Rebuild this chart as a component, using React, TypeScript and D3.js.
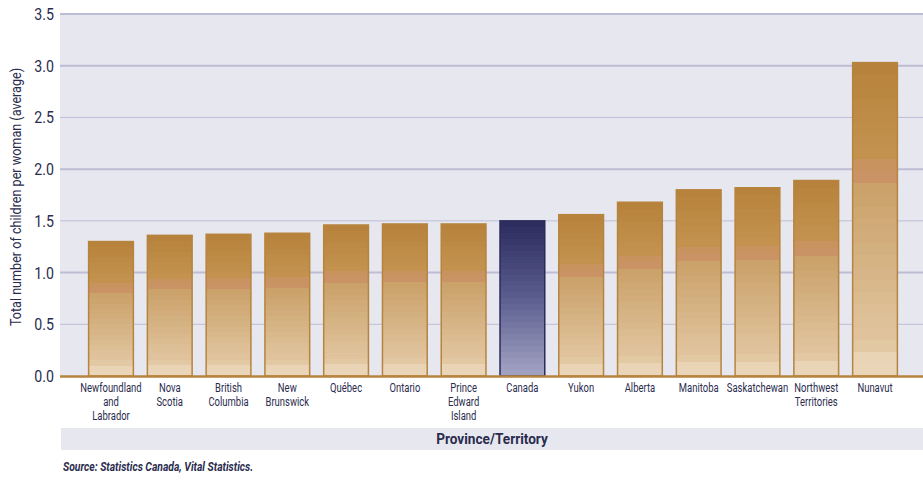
import React from "react";
import * as d3 from "d3";

const provinces = [
  ["Newfoundland", "and", "Labrador"],
  ["Nova", "Scotia"],
  ["British", "Columbia"],
  ["New", "Brunswick"],
  ["Québec"],
  ["Ontario"],
  ["Prince", "Edward", "Island"],
  ["Canada"],
  ["Yukon"],
  ["Alberta"],
  ["Manitoba"],
  ["Saskatchewan"],
  ["Northwest", "Territories"],
  ["Nunavut"],
];
const fertility = [1.3, 1.36, 1.37, 1.38, 1.46, 1.47, 1.47, 1.5, 1.56, 1.68, 1.8, 1.82, 1.89, 3.03];
const yTicks = [0, 0.5, 1, 1.5, 2, 2.5, 3, 3.5];

const W = 923;
const H = 486;
const margin = { top: 14, bottom: 110, left: 60 };
const baseY = H - margin.bottom; // 376
const FONT = "Roboto, 'Liberation Sans', sans-serif";
const INK = "#2a2c4e";

// stepped gradient stops (the original bars are banded)
function bandStops(domain: number[], colors: string[], steps: number) {
  const c = d3.scaleLinear<string>().domain(domain).range(colors).interpolate(d3.interpolateRgb);
  const out: { off: number; color: string }[] = [];
  for (let i = 0; i < steps; i++) {
    const col = c((i + 0.5) / steps);
    out.push({ off: i / steps, color: col });
    out.push({ off: (i + 1) / steps, color: col });
  }
  return out;
}

const brownStops = bandStops(
  [0, 0.3, 0.34, 0.37, 0.38, 0.9, 0.93, 1],
  ["#b6823b", "#c3934f", "#ca9366", "#ca9366", "#c9a067", "#e2c6a1", "#e9d3b5", "#ebd6b9"],
  26
);
const navyStops = bandStops([0, 0.5, 1], ["#2b2c5d", "#5b5d8e", "#a3a4c4"], 26);

// narrow text: the original uses a condensed face
const squeeze = (sx: number) => `scale(${sx},1)`;

export default function App() {
  const x = d3
    .scaleBand<number>()
    .domain(d3.range(provinces.length))
    .range([81.6, 904.4])
    .paddingInner(0.213)
    .paddingOuter(0.1065);
  const y = d3.scaleLinear().domain([0, 3.5]).range([baseY, margin.top]);

  return (
    <svg width={W} height={H} style={{ position: "absolute", left: 0, top: 0 }} fontFamily={FONT}>
      <defs>
        <linearGradient id="brown" x1="0" y1="0" x2="0" y2="1">
          {brownStops.map((s, i) => (
            <stop key={i} offset={s.off} stopColor={s.color} />
          ))}
        </linearGradient>
        <linearGradient id="navy" x1="0" y1="0" x2="0" y2="1">
          {navyStops.map((s, i) => (
            <stop key={i} offset={s.off} stopColor={s.color} />
          ))}
        </linearGradient>
      </defs>
      <rect width={W} height={H} fill="#fff" />
      <rect x={margin.left} y={margin.top} width={W - margin.left} height={baseY - margin.top} fill="#e7e8ef" />

      {yTicks.map((t) => (
        <g key={t}>
          {t > 0 && (
            <line
              x1={margin.left}
              x2={W}
              y1={y(t)}
              y2={y(t)}
              stroke="#bdbdd5"
              strokeWidth={t % 1 === 0 || t === 3.5 ? 2 : 1}
            />
          )}
          <g transform={`translate(54,${y(t)}) ${squeeze(0.86)}`}>
            <text dy="0.36em" textAnchor="end" fontSize={16.5} fill={INK}>
              {t.toFixed(1)}
            </text>
          </g>
        </g>
      ))}

      {fertility.map((v, i) => {
        const canada = provinces[i][0] === "Canada";
        return (
          <rect
            key={i}
            x={x(i)! + 0.75}
            y={y(v)}
            width={x.bandwidth() - 1.5}
            height={baseY - y(v)}
            fill={canada ? "url(#navy)" : "url(#brown)"}
            stroke={canada ? "#2b2c5d" : "#b7843f"}
            strokeWidth={1.5}
          />
        );
      })}

      <line x1={margin.left} x2={W} y1={baseY + 0.5} y2={baseY + 0.5} stroke="#b7843f" strokeWidth={2.5} />

      {provinces.map((lines, i) => (
        <g key={i} transform={`translate(${x(i)! + x.bandwidth() / 2},0) ${squeeze(0.74)}`}>
          <text textAnchor="middle" fontSize={12.8} fill={INK}>
            {lines.map((l, j) => (
              <tspan key={j} x={0} y={392.5 + j * 13.7}>
                {l}
              </tspan>
            ))}
          </text>
        </g>
      ))}

      <g transform={`translate(21,${(margin.top + baseY) / 2 + 2}) rotate(-90) ${squeeze(0.84)}`}>
        <text textAnchor="middle" fontSize={15} fill={INK}>
          Total number of children per woman (average)
        </text>
      </g>

      <rect x={61} y={428} width={W - 61} height={22} fill="#e7e8ef" />
      <g transform={`translate(492,444) ${squeeze(0.94)}`}>
        <text textAnchor="middle" fontSize={14.5} fontWeight="bold" fill={INK}>
          Province/Territory
        </text>
      </g>

      <g transform={`translate(63,471) ${squeeze(0.83)}`}>
        <text fontSize={12.5} fontStyle="italic" fontWeight="bold" fill={INK}>
          Source: Statistics Canada, Vital Statistics.
        </text>
      </g>
    </svg>
  );
}
